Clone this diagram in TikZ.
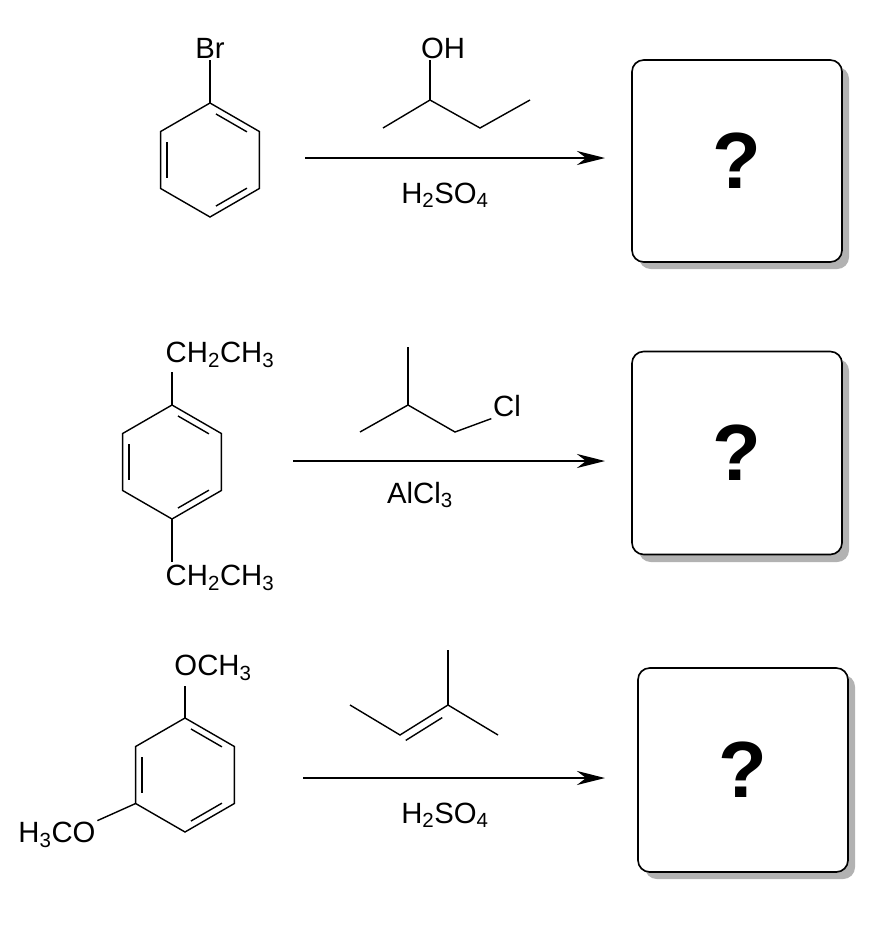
\documentclass[tikz,border=0pt]{standalone}
\usepackage{fontspec}
\setmainfont{Liberation Sans}
\usetikzlibrary{arrows.meta,calc}

\begin{document}
\begin{tikzpicture}[x=0.03cm,y=-0.03cm,line width=1.2pt,
    atom/.style={inner sep=1pt,font=\fontsize{25}{28}\selectfont},
    box/.style={draw,line width=1.4pt,rounded corners=10pt,fill=white},
    shadow/.style={fill=black!30,rounded corners=10pt},
    rxn/.style={-{Stealth[length=24pt,width=12pt]},line width=1.4pt},
    quest/.style={font=\fontsize{68}{68}\selectfont\bfseries}]
    \useasboundingbox (0,0) rectangle (892,948);

    % rings: vertices 1..6 starting at top, clockwise
    \foreach \r/\cx/\cy in {a/210/160, b/172/462, c/185/775} {
        \foreach \i in {1,...,6}
            \coordinate (\r\i) at ({\cx+57*cos(90-60*(\i-1))},{\cy-57*sin(90-60*(\i-1))});
        \draw (\r1)--(\r2)--(\r3)--(\r4)--(\r5)--(\r6)--cycle;
        \coordinate (\r0) at (\cx,\cy);
        \draw ($(\r1)!0.15!(\r0)!0.12!(\r2)$) -- ($(\r2)!0.15!(\r0)!0.12!(\r1)$);
        \draw ($(\r3)!0.15!(\r0)!0.12!(\r4)$) -- ($(\r4)!0.15!(\r0)!0.12!(\r3)$);
        \draw ($(\r5)!0.15!(\r0)!0.12!(\r6)$) -- ($(\r6)!0.15!(\r0)!0.12!(\r5)$);
    }

    % reaction 1
    \node[atom](br) at (210,48) {Br};
    \draw (a1)--(br);
    \node[atom](oh) at (443,48) {OH};
    \coordinate (c2) at (430,100);
    \draw (383,128)--(c2)--(480,128)--(530,100);
    \draw (c2)--(oh.south -| c2);
    \coordinate (s1) at (305,158);
    \coordinate (e1) at (605,158);
    \draw[rxn] (s1)--(e1);
    \node[atom](h1) at (445,195) {H\textsubscript{2}SO\textsubscript{4}};
    \fill[shadow] (639,67) rectangle (849,269);
    \node[box,minimum width=210*0.03cm,minimum height=202*0.03cm](p1) at (737,161) {};
    \node[quest] at (p1) {?};

    % reaction 2
    \node[atom](et1) at (220,355) {CH\textsubscript{2}CH\textsubscript{3}};
    \node[atom](et2) at (220,578) {CH\textsubscript{2}CH\textsubscript{3}};
    \draw (b1)--(172,372);
    \draw (b4)--(172,562);
    \node[atom](cl) at (507,406) {Cl};
    \coordinate (m2) at (408,405);
    \draw (360,432)--(m2)--(455,432)--(cl.south west);
    \draw (m2)--(408,347);
    \coordinate (s2) at (293,461);
    \coordinate (e2) at (605,461);
    \draw[rxn] (s2)--(e2);
    \node[atom](al) at (420,495) {AlCl\textsubscript{3}};
    \fill[shadow] (639,359) rectangle (849,562);
    \node[box,minimum width=210*0.03cm,minimum height=203*0.03cm](p2) at (737,453) {};
    \node[quest] at (p2) {?};

    % reaction 3
    \node[atom](om1) at (213,668) {OCH\textsubscript{3}};
    \node[atom](om2) at (57,835) {H\textsubscript{3}CO};
    \draw (c1)--(185,686);
    \draw (c5)--(om2.north east);
    \coordinate (d1) at (400,735);
    \coordinate (d2) at (448,705);
    \draw (350,705)--(d1)--(d2)--(498,735);
    \draw ($(d1)!0.12!(d2)+(0,9)$)--($(d2)!0.12!(d1)+(0,9)$);
    \draw (d2)--(448,650);
    \coordinate (s3) at (303,778);
    \coordinate (e3) at (605,778);
    \draw[rxn] (s3)--(e3);
    \node[atom](h3) at (445,815) {H\textsubscript{2}SO\textsubscript{4}};
    \fill[shadow] (645,675) rectangle (855,879);
    \node[box,minimum width=210*0.03cm,minimum height=204*0.03cm](p3) at (743,770) {};
    \node[quest] at (p3) {?};
\end{tikzpicture}
\end{document}
